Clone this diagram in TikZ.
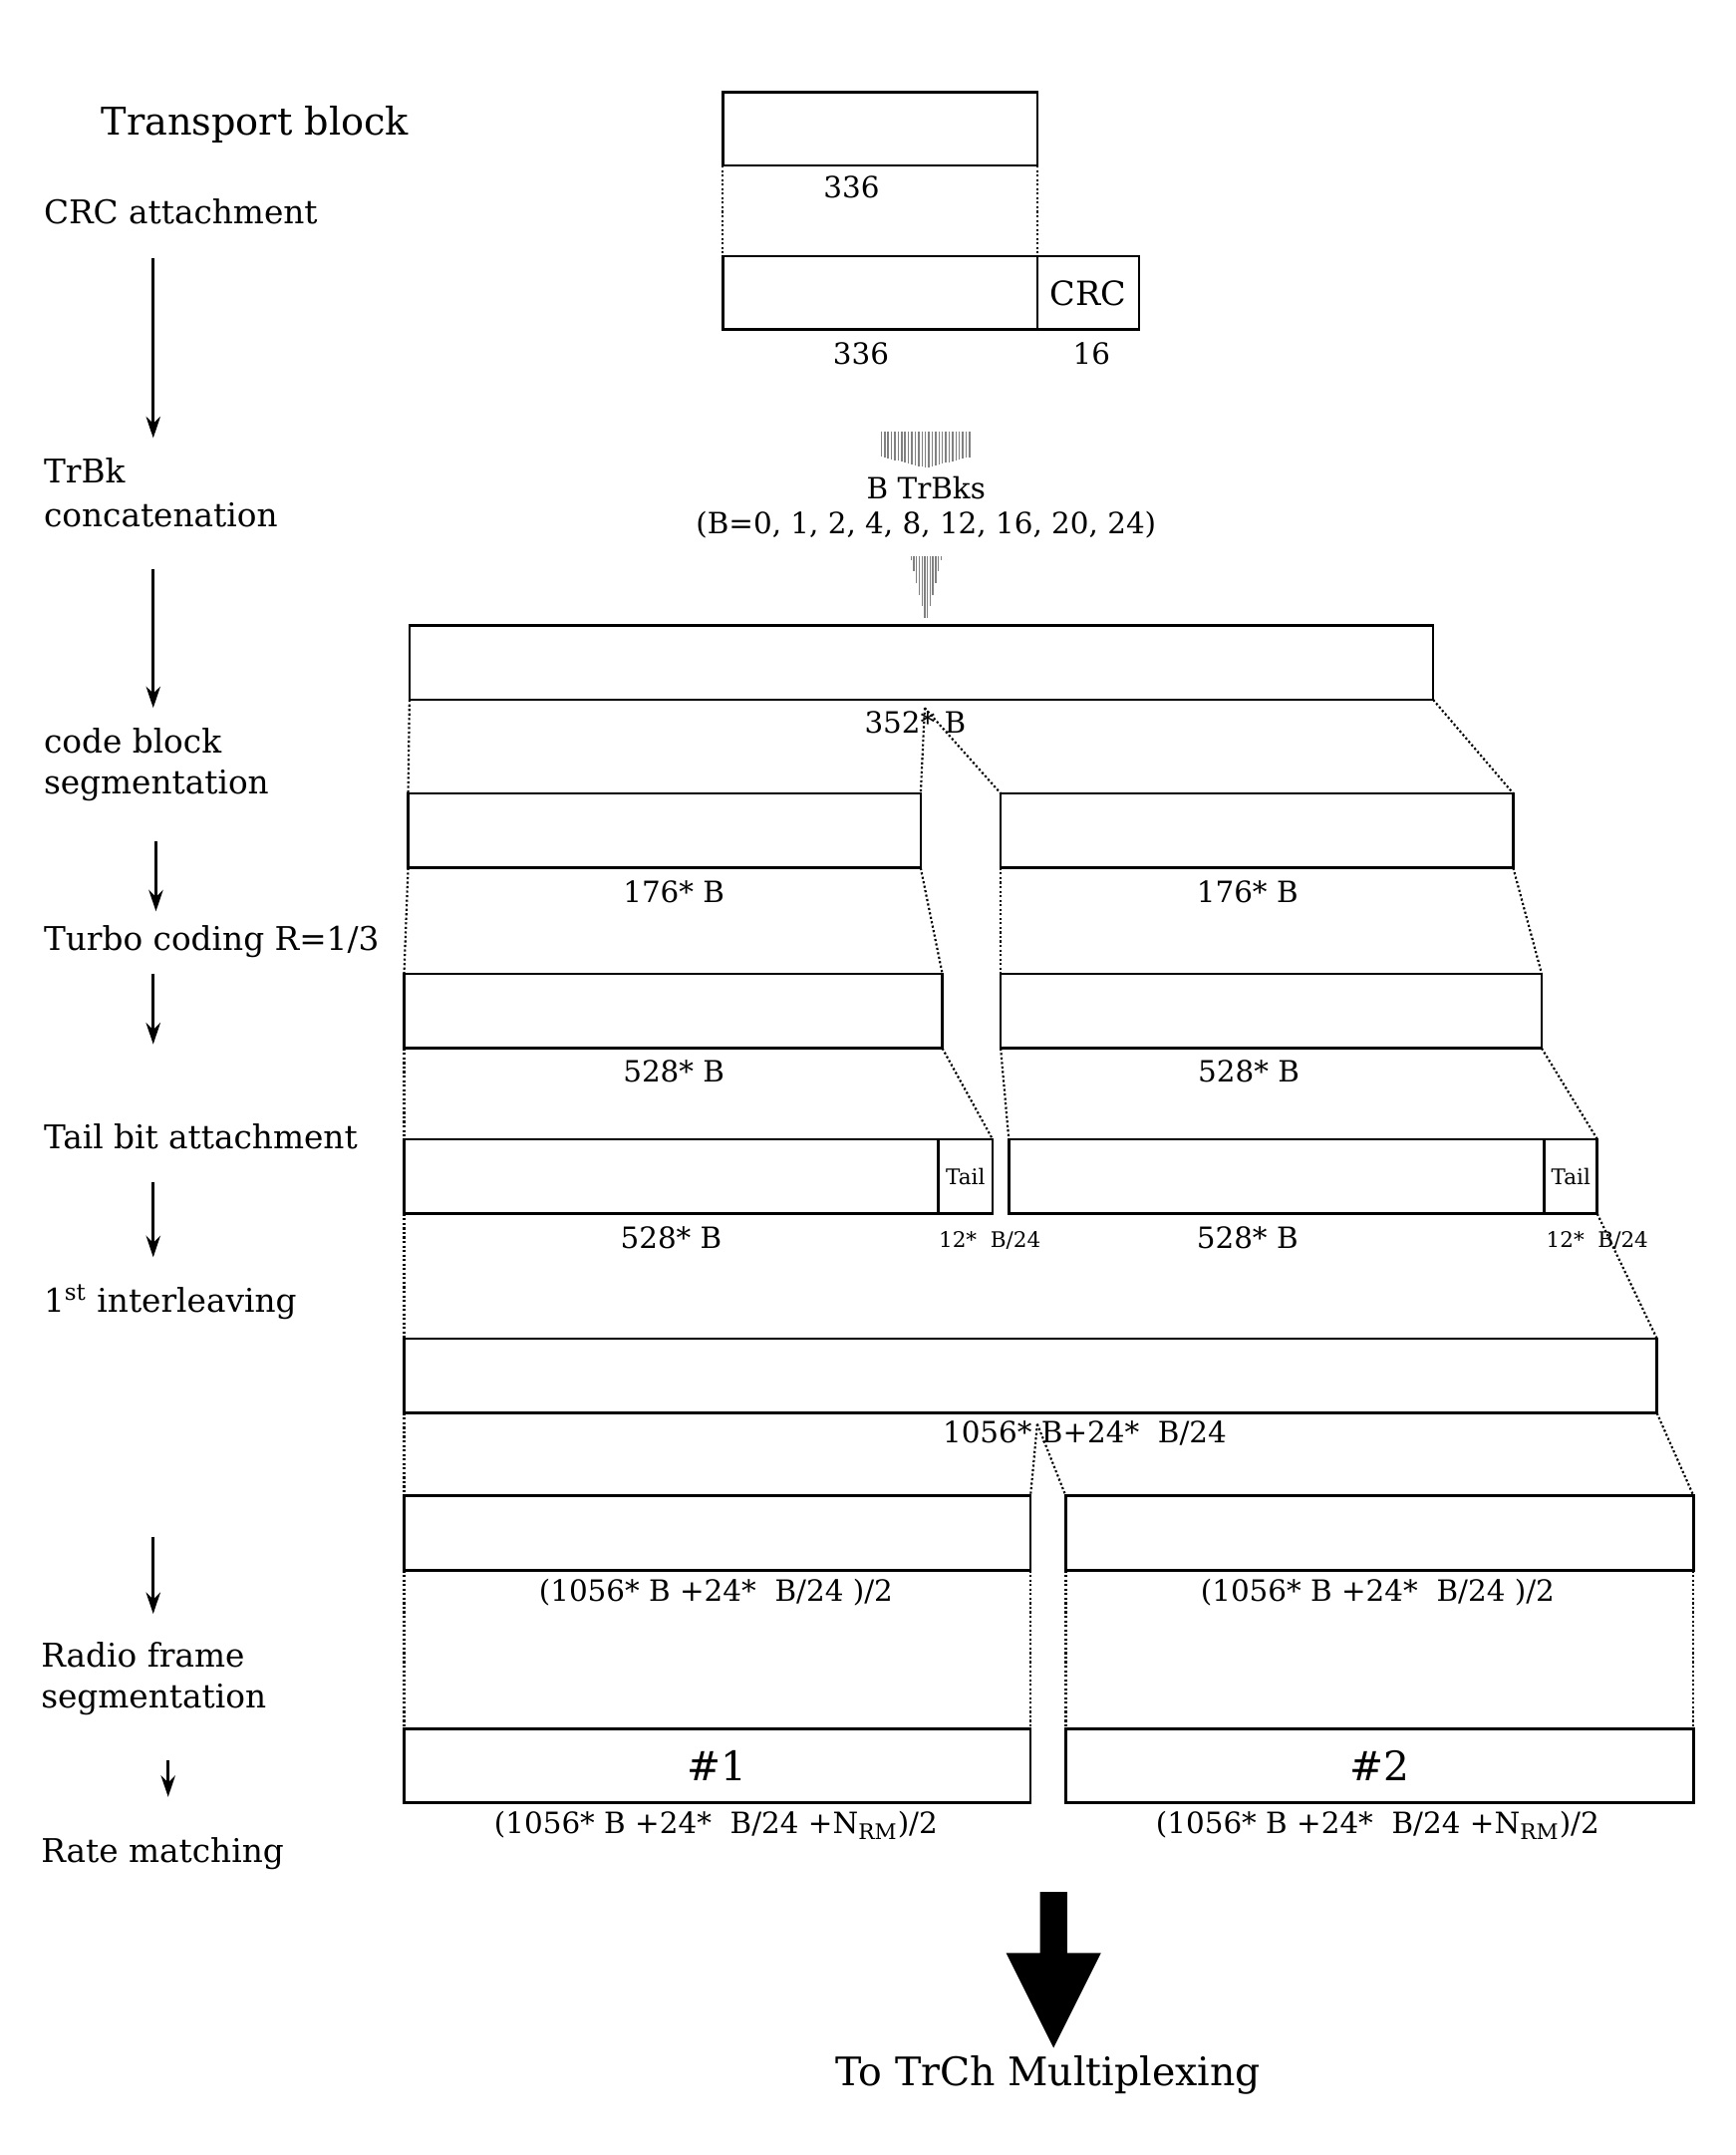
\documentclass[tikz,border=0pt]{standalone}
\usepackage{fontspec}
\setmainfont{DejaVu Serif}
\usetikzlibrary{arrows.meta}
\begin{document}
\begin{tikzpicture}[x=0.02cm,y=-0.02cm,
  box/.style={draw,line width=1.1pt,inner sep=0pt,outer sep=0pt},
  dot/.style={densely dotted,line width=0.9pt},
  lab/.style={font=\fontsize{12.3}{15}\selectfont,inner sep=0pt},
  side/.style={font=\fontsize{13.7}{17}\selectfont,anchor=west,inner sep=0pt},
  small/.style={font=\fontsize{9}{11}\selectfont,inner sep=0pt},
  arr/.style={-{Stealth[length=9pt,width=6pt]},line width=1.3pt}]
\useasboundingbox (0,0) rectangle (1280,1589);
\newcommand\bx[6][]{\node[box,minimum width={(#5-#3)*0.02cm},minimum height={(#6-#4)*0.02cm},#1] (#2) at ({(#3+#5)/2},{(#4+#6)/2}) {};}
% left texts
\node[font=\fontsize{16}{19}\selectfont,inner sep=0pt] (tb) at (188,92) {Transport block};
\node[side] (t1) at (32,156) {CRC attachment};
\node[side] (t2) at (32,347) {TrBk};
\node[side] (t3) at (32,380) {concatenation};
\node[side] (t4) at (32,546) {code block};
\node[side] (t5) at (32,579) {segmentation};
\node[side] (t6) at (32,694) {Turbo coding R=1/3};
\node[side] (t7) at (32,838) {Tail bit attachment};
\node[side] (t8) at (32,960) {1\textsuperscript{st} interleaving};
\node[side] (t9) at (30,1220) {Radio frame};
\node[side] (t10) at (30,1253) {segmentation};
\node[side] (t11) at (30,1367) {Rate matching};
% left arrows
\coordinate (a1s) at (113,190); \coordinate (a1e) at (113,323);
\coordinate (a2s) at (113,420); \coordinate (a2e) at (113,522);
\coordinate (a3s) at (115,620); \coordinate (a3e) at (115,672);
\coordinate (a4s) at (113,718); \coordinate (a4e) at (113,770);
\coordinate (a5s) at (113,872); \coordinate (a5e) at (113,927);
\coordinate (a6s) at (113,1133); \coordinate (a6e) at (113,1190);
\coordinate (a7s) at (124,1298); \coordinate (a7e) at (124,1325);
\foreach \i in {1,...,7} \draw[arr] (a\i s) -- (a\i e);
% row 1
\bx{b1}{533}{68}{765}{122}
\node[lab] (l1) at (628,138) {336};
\bx{b2}{533}{189}{765}{243}
\bx{crc}{765}{189}{840}{243}
\node[font=\fontsize{14}{17}\selectfont] (crct) at (crc) {CRC};
\node[lab] (l2) at (635,261) {336};
\node[lab] (l3) at (805,261) {16};
\draw[dot] (b1.south west) -- (b2.north west);
\draw[dot] (b1.south east) -- (b2.north east);
% gray marks
\foreach \x in {650,652.5,...,716} \draw[gray,line width=0.6pt] (\x,318) -- (\x,{345-abs(\x-683)*0.25});
\foreach \x in {672,674,...,694} \draw[gray,line width=0.6pt] (\x,410) -- (\x,{460-abs(\x-683)*4.3});
\node[lab] (bt) at (683,360) {B TrBks};
\node[lab] (bl) at (683,387) {(B=0, 1, 2, 4, 8, 12, 16, 20, 24)};
% row 3
\bx{b3}{302}{461}{1057}{516}
\node[lab] (l4) at (675,533) {352* B};
\bx{b4a}{301}{585}{679}{640}
\bx{b4b}{738}{585}{1116}{640}
\coordinate (m3) at (682,522);
\draw[dot] (b3.south west) -- (b4a.north west);
\draw[dot] (m3) -- (b4a.north east);
\draw[dot] (m3) -- (b4b.north west);
\draw[dot] (b3.south east) -- (b4b.north east);
\node[lab] (l5) at (497,658) {176* B};
\node[lab] (l6) at (920,658) {176* B};
% row 5
\bx{b5a}{298}{718}{695}{773}
\bx{b5b}{738}{718}{1137}{773}
\draw[dot] (b4a.south west) -- (b5a.north west);
\draw[dot] (b4a.south east) -- (b5a.north east);
\draw[dot] (b4b.south west) -- (b5b.north west);
\draw[dot] (b4b.south east) -- (b5b.north east);
\node[lab] (l7) at (497,790) {528* B};
\node[lab] (l8) at (921,790) {528* B};
% row 6
\bx{b6a}{298}{840}{692}{895}
\bx{t6a}{692}{840}{732}{895}
\bx{b6b}{744}{840}{1139}{895}
\bx{t6b}{1139}{840}{1178}{895}
\node[small] (tt1) at (t6a) {Tail};
\node[small] (tt2) at (t6b) {Tail};
\draw[dot] (b5a.south west) -- (b6a.north west);
\draw[dot] (b5a.south east) -- (t6a.north east);
\draw[dot] (b5b.south west) -- (b6b.north west);
\draw[dot] (b5b.south east) -- (t6b.north east);
\node[lab] (l9) at (495,913) {528* B};
\node[small] (l10) at (730,915) {12*\ \ B/24};
\node[lab] (l11) at (920,913) {528* B};
\node[small] (l12) at (1178,915) {12*\ \ B/24};
% row 7
\bx{b7}{298}{987}{1222}{1042}
\draw[dot] (b6a.south west) -- (b7.north west);
\draw[dot] (t6b.south east) -- (b7.north east);
\node[lab] (l13) at (800,1057) {1056* B+24*\ \ B/24};
% row 8
\bx{b8a}{298}{1103}{760}{1158}
\bx{b8b}{786}{1103}{1249}{1158}
\coordinate (m7) at (765,1050);
\draw[dot] (b7.south west) -- (b8a.north west);
\draw[dot] (m7) -- (b8a.north east);
\draw[dot] (m7) -- (b8b.north west);
\draw[dot] (b7.south east) -- (b8b.north east);
\node[lab] (l14) at (528,1174) {(1056* B +24*\ \ B/24\ )/2};
\node[lab] (l15) at (1016,1174) {(1056* B +24*\ \ B/24\ )/2};
% row 9
\bx{b9a}{298}{1275}{760}{1329}
\bx{b9b}{786}{1275}{1249}{1329}
\node[font=\fontsize{17}{20}\selectfont] (n1) at (b9a) {\#1};
\node[font=\fontsize{17}{20}\selectfont] (n2) at (b9b) {\#2};
\draw[dot] (b8a.south west) -- (b9a.north west);
\draw[dot] (b8a.south east) -- (b9a.north east);
\draw[dot] (b8b.south west) -- (b9b.north west);
\draw[dot] (b8b.south east) -- (b9b.north east);
\node[lab] (l16) at (528,1346) {(1056* B +24*\ \ B/24\ +N\textsubscript{\fontsize{9}{10}\selectfont RM})/2};
\node[lab] (l17) at (1016,1346) {(1056* B +24*\ \ B/24\ +N\textsubscript{\fontsize{9}{10}\selectfont RM})/2};
% big arrow
\fill (767,1395) -- (787,1395) -- (787,1440) -- (812,1440) -- (777,1510) -- (742,1440) -- (767,1440) -- cycle;
\node[font=\fontsize{16.5}{20}\selectfont,inner sep=0pt] (tt) at (773,1530) {To TrCh Multiplexing};
\end{tikzpicture}
\end{document}
